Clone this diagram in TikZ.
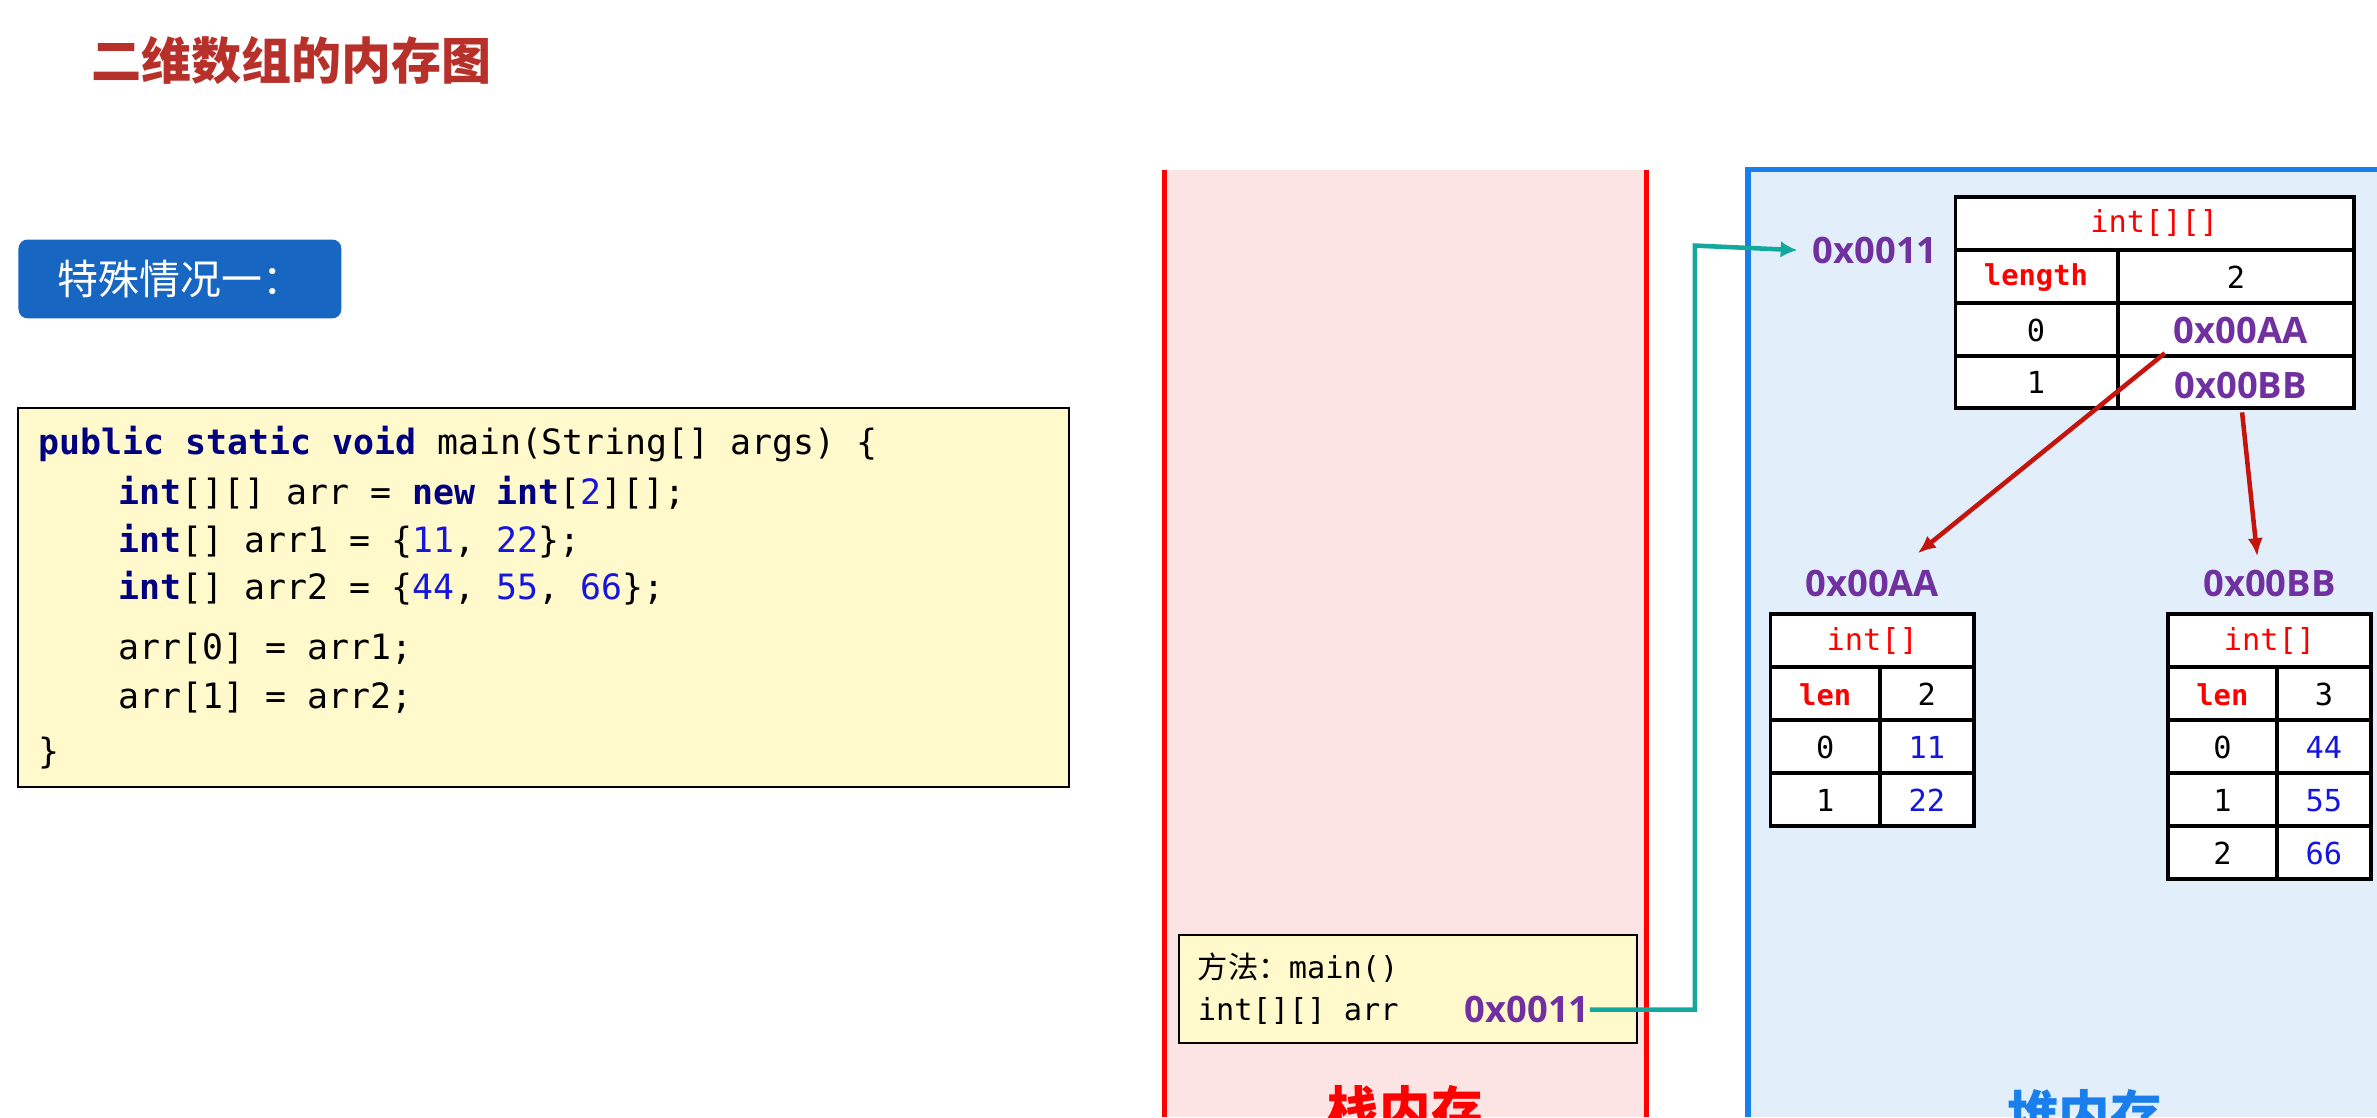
\documentclass[tikz,border=0pt]{standalone}
\usepackage{fontspec}
\setmainfont{Noto Sans}
\setmonofont{DejaVu Sans Mono}
\newfontfamily\cjk{Noto Sans CJK SC}
\newfontfamily\addrfont{Open Sans}
\begin{document}
\begin{tikzpicture}[x=1pt,y=-1pt,
  code/.style={anchor=west,inner sep=0pt,font=\fontsize{23}{23}\selectfont\ttfamily},
  addr/.style={inner sep=0pt,text=purp,font=\fontsize{24}{24}\selectfont\addrfont\bfseries},
  cell/.style={draw=black,line width=2.4pt,fill=white},
  ctext/.style={inner sep=0pt,font=\fontsize{20}{20}\selectfont\ttfamily},
  ref/.style={draw=arr,line width=3pt,-{Latex[length=12pt,width=10pt]}}]
\definecolor{purp}{HTML}{7030A0}
\definecolor{titlered}{HTML}{B8302A}
\definecolor{kwc}{HTML}{000080}
\definecolor{numc}{HTML}{1515E0}
\definecolor{codebg}{HTML}{FFF9CC}
\definecolor{stackbg}{HTML}{FDE4E4}
\definecolor{heapbg}{HTML}{E2EFFB}
\definecolor{heapline}{HTML}{1A7FEA}
\definecolor{teal}{HTML}{13A89E}
\definecolor{arr}{HTML}{C4140C}
\definecolor{btn}{HTML}{1766C2}
\usetikzlibrary{arrows.meta}
\useasboundingbox (0,0) rectangle (1568,737);
\fill[white] (0,0) rectangle (1568,737);
% title
\node[anchor=west,inner sep=0pt,text=titlered,font=\fontsize{33}{33}\selectfont\cjk\bfseries] (title) at (60,40) {二维数组的内存图};
% button
\node[anchor=west,rounded corners=6pt,fill=btn,minimum width=213pt,minimum height=52pt,text=white,font=\fontsize{27}{27}\selectfont\cjk,align=left,text width=189pt,inner xsep=12pt] (btn) at (12,184) {\hspace*{14pt}特殊情况一：};
% code box
\draw[fill=codebg,line width=1.2pt] (12,269) rectangle (705,519);
\node[code] (c1) at (25,293) {\textbf{\color{kwc}public static void} main(String[] args) \{};
\node[code] (c2) at (78,325) {\textbf{\color{kwc}int}[][] arr = \textbf{\color{kwc}new int}[{\color{numc}2}][];};
\node[code] (c3) at (78,357) {\textbf{\color{kwc}int}[] arr1 = \{{\color{numc}11}, {\color{numc}22}\};};
\node[code] (c4) at (78,388) {\textbf{\color{kwc}int}[] arr2 = \{{\color{numc}44}, {\color{numc}55}, {\color{numc}66}\};};
\node[code] (c5) at (78,428) {arr[0] = arr1;};
\node[code] (c6) at (78,460) {arr[1] = arr2;};
\node[code] (c7) at (25,497) {\}};
% stack
\fill[stackbg] (768,112) rectangle (1086,737);
\draw[red,line width=3pt] (768,112) -- (768,737) (1086,112) -- (1086,737);
\node[text=red,font=\fontsize{34}{34}\selectfont\cjk\bfseries] (stk) at (927,732) {栈内存};
\draw[fill=codebg,line width=1.4pt] (778,617) rectangle (1080,688);
\node[anchor=west,inner sep=0pt,font=\fontsize{20}{20}\selectfont] (f1) at (790,638) {{\cjk 方法：}\ttfamily main()};
\node[anchor=west,inner sep=0pt,font=\fontsize{20}{20}\selectfont\ttfamily] (f2) at (790,667) {int[][] arr};
\node[addr,anchor=west] (fa) at (966,666) {0x0011};
% heap
\fill[heapbg] (1153,112) rectangle (1568,737);
\draw[heapline,line width=3.5pt] (1153,737) -- (1153,112) -- (1568,112);
\node[text=heapline,font=\fontsize{34}{34}\selectfont\cjk\bfseries] (hp) at (1375,735) {堆内存};
% big table
\draw[cell] (1290,130) rectangle (1553,165);
\draw[cell] (1290,165) rectangle (1397,200) (1397,165) rectangle (1553,200);
\draw[cell] (1290,200) rectangle (1397,235) (1397,200) rectangle (1553,235);
\draw[cell] (1290,235) rectangle (1397,269) (1397,235) rectangle (1553,269);
\node[ctext,text=red] (bh) at (1421,147) {int[][]};
\node[ctext,text=red,font=\fontsize{19}{19}\selectfont\ttfamily\bfseries] (bl) at (1343,183) {length};
\node[ctext] (b2) at (1475,183) {2};
\node[ctext] (b0) at (1343,218) {0};
\node[ctext] (b1) at (1343,252) {1};
\node[addr] (baa) at (1478,218) {0x00AA};
\node[addr] (bbb) at (1478,254) {0x00BB};
\node[addr] (top) at (1237,165) {0x0011};
% small tables
\foreach \x/\s/\r in {1168/1240/4,1430/1502/5}{
  \pgfmathsetmacro\xr{\x+134}
  \draw[cell] (\x,405) rectangle (\xr,440);
  \foreach \i in {1,...,\r}{
    \pgfmathsetmacro\ya{405+35*\i}\pgfmathsetmacro\yb{440+35*\i}
    \ifnum\i<\r\relax
    \draw[cell] (\x,\ya) rectangle (\s,\yb) (\s,\ya) rectangle (\xr,\yb);
    \fi}
}
\node[addr] (aa) at (1235,385) {0x00AA};
\node[addr] (bb) at (1497,385) {0x00BB};
\node[ctext,text=red] (ah) at (1235,423) {int[]};
\node[ctext,text=red,font=\fontsize{19}{19}\selectfont\ttfamily\bfseries] (al) at (1204,458) {len};
\node[ctext] (a2) at (1271,458) {2};
\node[ctext] (a0) at (1204,493) {0};
\node[ctext,text=numc] (a11) at (1271,493) {11};
\node[ctext] (a1) at (1204,528) {1};
\node[ctext,text=numc] (a22) at (1271,528) {22};
\node[ctext,text=red] (dh) at (1497,423) {int[]};
\node[ctext,text=red,font=\fontsize{19}{19}\selectfont\ttfamily\bfseries] (dl) at (1466,458) {len};
\node[ctext] (d3) at (1533,458) {3};
\node[ctext] (d0) at (1466,493) {0};
\node[ctext,text=numc] (d44) at (1533,493) {44};
\node[ctext] (d1) at (1466,528) {1};
\node[ctext,text=numc] (d55) at (1533,528) {55};
\node[ctext] (d2) at (1466,563) {2};
\node[ctext,text=numc] (d66) at (1533,563) {66};
% connectors
\coordinate (aS) at (1428,233);
\coordinate (bS) at (1479,272);
\draw[ref] (aS) -- (1265,365);
\draw[ref] (bS) -- (1489,367);
\draw[teal,line width=3pt,-{Latex[length=11pt,width=11pt]}] (fa.east) -- (1118,666) -- (1118,162) -- ([xshift=-10pt]top.west);
\end{tikzpicture}
\end{document}
